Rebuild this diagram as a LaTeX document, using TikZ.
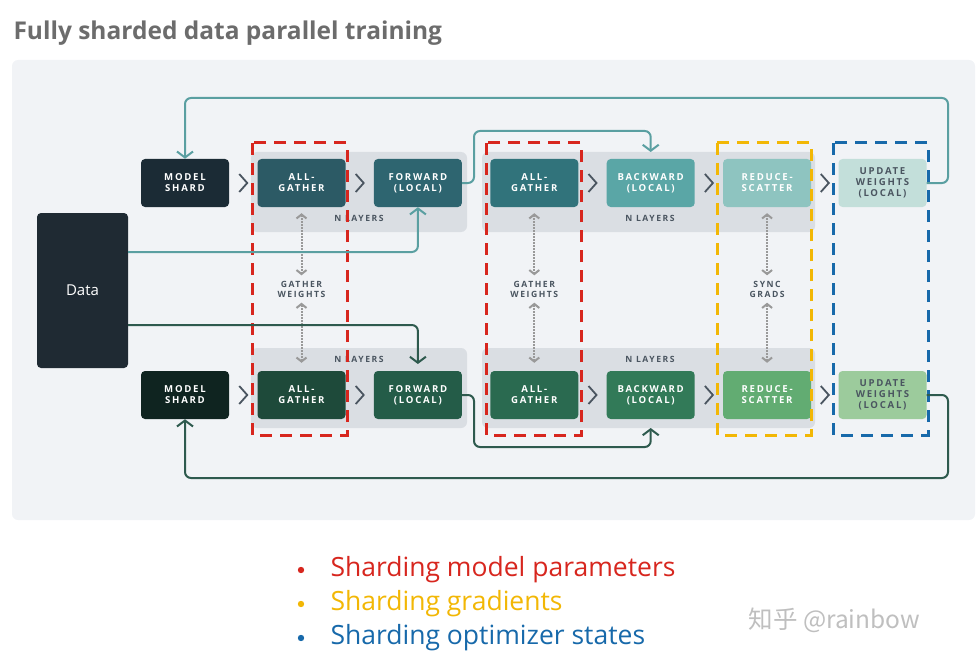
\documentclass[tikz,border=0pt]{standalone}
\usepackage{fontspec}
\setmainfont{Open Sans}
\newfontfamily\boxfont[LetterSpace=18]{Open Sans}
\newfontfamily\cjk{Noto Sans CJK SC}
\usetikzlibrary{arrows.meta,positioning,calc}
\definecolor{panel}{HTML}{F1F3F6}
\definecolor{band}{HTML}{DADEE3}
\definecolor{chev}{HTML}{4A5560}
\definecolor{teal}{HTML}{5A9FA1}
\definecolor{dgreen}{HTML}{2E5A4E}
\definecolor{fsdpred}{HTML}{D7261E}
\definecolor{fsdpyellow}{HTML}{F2B705}
\definecolor{fsdpblue}{HTML}{1769AA}
\definecolor{cdata}{HTML}{1F2A33}
\definecolor{cmsa}{HTML}{1B2B35}
\definecolor{caga}{HTML}{2C5A65}
\definecolor{cfwa}{HTML}{2E6570}
\definecolor{cagb}{HTML}{31737B}
\definecolor{cbwa}{HTML}{5AA6A6}
\definecolor{crsa}{HTML}{8EC4C0}
\definecolor{cupa}{HTML}{C3DFDA}
\definecolor{cmsb}{HTML}{0F2420}
\definecolor{cagc}{HTML}{1E4A3A}
\definecolor{cfwb}{HTML}{245C48}
\definecolor{cagd}{HTML}{2A6A50}
\definecolor{cbwb}{HTML}{327A58}
\definecolor{crsb}{HTML}{62AC72}
\definecolor{cupb}{HTML}{9CCB9C}
\tikzset{box/.style={rectangle,rounded corners=4pt,minimum width=88pt,minimum height=48pt,
    text=white,align=center,font=\boxfont\bfseries\fontsize{9.6}{11}\selectfont,inner sep=0pt}, }
\tikzset{small lbl/.style={text=chev,align=center,font=\boxfont\bfseries\fontsize{8.6}{10}\selectfont}, }
\tikzset{chevron/.style={chev,line width=1.8pt}, }
\tikzset{linea/.style={-{Straight Barb[length=6pt,width=16pt]},line width=2pt,rounded corners=6pt}, }
\tikzset{sync/.style={{Straight Barb[length=4pt,width=10pt]}-{Straight Barb[length=4pt,width=10pt]},densely dotted,line width=2pt,gray!80}, }
\tikzset{shard/.style={dash pattern=on 12pt off 8pt,line width=3pt}, }
\begin{document}
\begin{tikzpicture}[x=1pt,y=-1pt,node distance=28pt]
  \useasboundingbox (0,0) rectangle (980,658);
  \node[anchor=west,text=gray!85!black,font=\fontsize{24.5}{27}\selectfont\bfseries] (title) at (10,33) {Fully sharded data parallel training};
  \fill[panel,rounded corners=6pt] (12,60) rectangle (975,520);
  % bands
  \foreach \y in {152,348}{
    \fill[band,rounded corners=6pt] (251,\y) rectangle (467,\y+80);
    \fill[band,rounded corners=6pt] (482,\y) rectangle (815,\y+80);
  }
  \node[box,fill=cdata,minimum width=91pt,minimum height=155pt,
    font=\fontsize{15}{17}\selectfont] (data) at (82.5,290.5) {Data};
  % top row
  \node[box,fill=cmsa] (ms1) at (185,183) {MODEL\\SHARD};
  \node[box,fill=caga] (ag1) at (301.5,183) {ALL-\\GATHER};
  \node[box,fill=cfwa] (fw1) [right=of ag1] {FORWARD\\(LOCAL)};
  \node[box,fill=cagb] (ag2) [right=of fw1] {ALL-\\GATHER};
  \node[box,fill=cbwa] (bw1) [right=of ag2] {BACKWARD\\(LOCAL)};
  \node[box,fill=crsa] (rs1) [right=of bw1] {REDUCE-\\SCATTER};
  \node[box,fill=cupa,text=chev] (up1) [right=27pt of rs1] {UPDATE\\WEIGHTS\\(LOCAL)};
  % bottom row
  \node[box,fill=cmsb] (ms2) at (185,395) {MODEL\\SHARD};
  \node[box,fill=cagc] (ag3) at (301.5,395) {ALL-\\GATHER};
  \node[box,fill=cfwb] (fw2) [right=of ag3] {FORWARD\\(LOCAL)};
  \node[box,fill=cagd] (ag4) [right=of fw2] {ALL-\\GATHER};
  \node[box,fill=cbwb] (bw2) [right=of ag4] {BACKWARD\\(LOCAL)};
  \node[box,fill=crsb] (rs2) [right=of bw2] {REDUCE-\\SCATTER};
  \node[box,fill=cupb,text=chev] (up2) [right=27pt of rs2] {UPDATE\\WEIGHTS\\(LOCAL)};
  % layer labels
  \node[small lbl] (nl1) at (359,218) {N LAYERS};
  \node[small lbl] (nl2) at (650,218) {N LAYERS};
  \node[small lbl] (nl3) at (359,359) {N LAYERS};
  \node[small lbl] (nl4) at (650,359) {N LAYERS};
  % chevrons
  \foreach \a/\b in {ms1/ag1,ag1/fw1,ag2/bw1,bw1/rs1,rs1/up1,ms2/ag3,ag3/fw2,ag4/bw2,bw2/rs2,rs2/up2}
    \draw[chevron] ($($(\a.east)!0.5!(\b.west)$)+(-4,-9)$) -- ($($(\a.east)!0.5!(\b.west)$)+(4,0)$) -- ($($(\a.east)!0.5!(\b.west)$)+(-4,9)$);
  % sync arrows
  \foreach \t/\b/\lbl in {ag1/ag3/{GATHER\\WEIGHTS},ag2/ag4/{GATHER\\WEIGHTS},rs1/rs2/{SYNC\\GRADS}}{
    \node[small lbl,fill=panel] (s\t) at ($(\t)!0.5!(\b)$) {\lbl};
    \draw[sync] ($(\t.south)+(0,6)$) -- ($(s\t.north)+(0,-2)$);
    \draw[sync] ($(\b.north)+(0,-8)$) -- ($(s\t.south)+(0,2)$);
  }
  % shard boxes
  \draw[shard,fsdpred] (252,143) rectangle (347,435);
  \draw[shard,fsdpred] (486,143) rectangle (581,435);
  \draw[shard,fsdpyellow] (717,143) rectangle (811,435);
  \draw[shard,fsdpblue] (833,143) rectangle (928,435);
  % connectors
  \draw[linea,teal] (up1.east) -| (948,98) -| (ms1.north);
  \draw[linea,teal] (fw1.east) -| (474,131) -| (bw1.north |- 0,152);
  \draw[linea,teal] (data.east |- 0,252) -| (fw1.south);
  \draw[linea,dgreen] (data.east |- 0,325) -| (fw2.north |- 0,364);
  \draw[linea,dgreen] (fw2.east) -| (474,447) -| (bw2.south |- 0,428);
  \draw[linea,dgreen] (up2.east) -| (948,478) -| (ms2.south);
  % legend
  \foreach \i/\c/\txt in {0/fsdpred/Sharding model parameters,1/fsdpyellow/Sharding gradients,2/fsdpblue/Sharding optimizer states}{
    \node[anchor=west,text=\c,font=\fontsize{26.5}{29}\selectfont] (leg\i) at (327,570+34*\i) {\txt};
    \fill[\c] ($(leg\i.west)+(-26,0)$) circle (3.2pt);
  }
  \node[anchor=west,text=gray!50,font=\fontsize{24.5}{27}\selectfont] (mark) at (745,620) {\cjk 知乎 @rainbow};
\end{tikzpicture}
\end{document}
